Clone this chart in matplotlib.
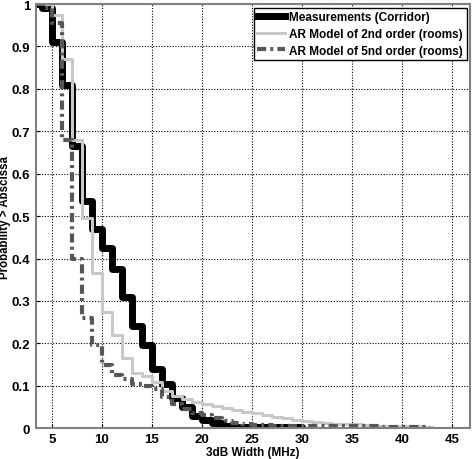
import numpy as np
import matplotlib
matplotlib.use('Agg')
import matplotlib.pyplot as plt

plt.rcParams['font.family'] = ['Liberation Sans', 'DejaVu Sans']
plt.rcParams['font.weight'] = 'bold'
plt.rcParams['font.size'] = 9

# complementary CDF steps (value holds from x[i] to x[i+1])
meas_x = [3.4, 4.0, 5, 6, 7, 8, 9, 10, 11, 12, 13, 14, 15, 16, 17, 18, 19, 20, 21, 22, 23, 30]
meas_y = [1.0, 0.99, 0.91, 0.81, 0.665, 0.535, 0.47, 0.425, 0.375, 0.31, 0.24, 0.195,
          0.14, 0.105, 0.072, 0.05, 0.028, 0.02, 0.012, 0.006, 0.003, 0.0]

ar2_x = [3.4, 5, 6, 7, 8, 9, 10, 11, 12, 13, 14, 15, 16, 17, 18, 19, 20, 21, 22, 23, 24,
         25, 26, 27, 28, 29, 30, 31, 32, 33, 34, 35, 36, 37, 38, 39, 40, 41, 42, 43, 46.8]
ar2_y = [1.0, 0.975, 0.87, 0.68, 0.495, 0.365, 0.275, 0.22, 0.165, 0.13, 0.123, 0.11,
         0.088, 0.075, 0.068, 0.062, 0.057, 0.052, 0.047, 0.042, 0.038, 0.035, 0.031,
         0.027, 0.023, 0.019, 0.016, 0.014, 0.012, 0.011, 0.01, 0.009, 0.007, 0.006,
         0.006, 0.005, 0.005, 0.004, 0.003, 0.001, 0.001]

ar5_x = [3.4, 4.1, 5, 6, 7, 8, 9, 10, 11, 12, 13, 14, 15, 16, 17, 18, 19, 20, 21, 22, 23,
         24, 25, 27, 30, 34, 38, 42.8]
ar5_y = [1.0, 0.99, 0.955, 0.68, 0.40, 0.26, 0.195, 0.148, 0.125, 0.115, 0.105, 0.10,
         0.092, 0.073, 0.058, 0.045, 0.035, 0.03, 0.024, 0.018, 0.013, 0.01, 0.008,
         0.006, 0.005, 0.004, 0.003, 0.003]

labels = ['Measurements (Corridor)', 'AR Model of 2nd order (rooms)', 'AR Model of 5nd order (rooms)']

fig = plt.figure(figsize=(4.72, 4.6), dpi=100)
ax = fig.add_axes([0.076, 0.067, 0.92, 0.922])

ax.step(meas_x, meas_y, where='post', color='black', lw=5, label=labels[0])
ax.step(ar2_x, ar2_y, where='post', color='#c8c8c8', lw=2.2, label=labels[1])
ax.step(ar5_x, ar5_y, where='post', color='#575757', lw=3, dashes=(2.2, 1, 0.7, 1),
        label=labels[2])

ax.set_xlim(3.4, 46.8)
ax.set_ylim(0, 1)
ax.set_xticks(np.arange(5, 46, 5))
ax.set_yticks(np.arange(0, 1.01, 0.1))
ax.set_yticklabels(['0', '0.1', '0.2', '0.3', '0.4', '0.5', '0.6', '0.7', '0.8', '0.9', '1'])
ax.grid(True, color='black', linestyle=(0, (1, 1.5)), lw=0.8)
ax.tick_params(direction='in', length=3, labelsize=9.5)
ax.tick_params(axis='y', pad=4)
for s in ax.spines.values():
    s.set_color('#808080')
    s.set_linewidth(1.5)

ax.set_xlabel('3dB Width (MHz)', fontweight='bold', fontsize=8.5, labelpad=1)
ax.set_ylabel('Probability > Abscissa', fontweight='bold', fontsize=8.3)
ax.yaxis.set_label_coords(-0.058, 0.5)

leg = ax.legend(loc='upper right', fancybox=False, framealpha=1, edgecolor='black',
                fontsize=8.5, borderpad=0.3, labelspacing=0.4, handlelength=2.3,
                handletextpad=0.4, borderaxespad=0.3)
leg.get_frame().set_linewidth(1.0)

fig.savefig('out.png', dpi=100)
